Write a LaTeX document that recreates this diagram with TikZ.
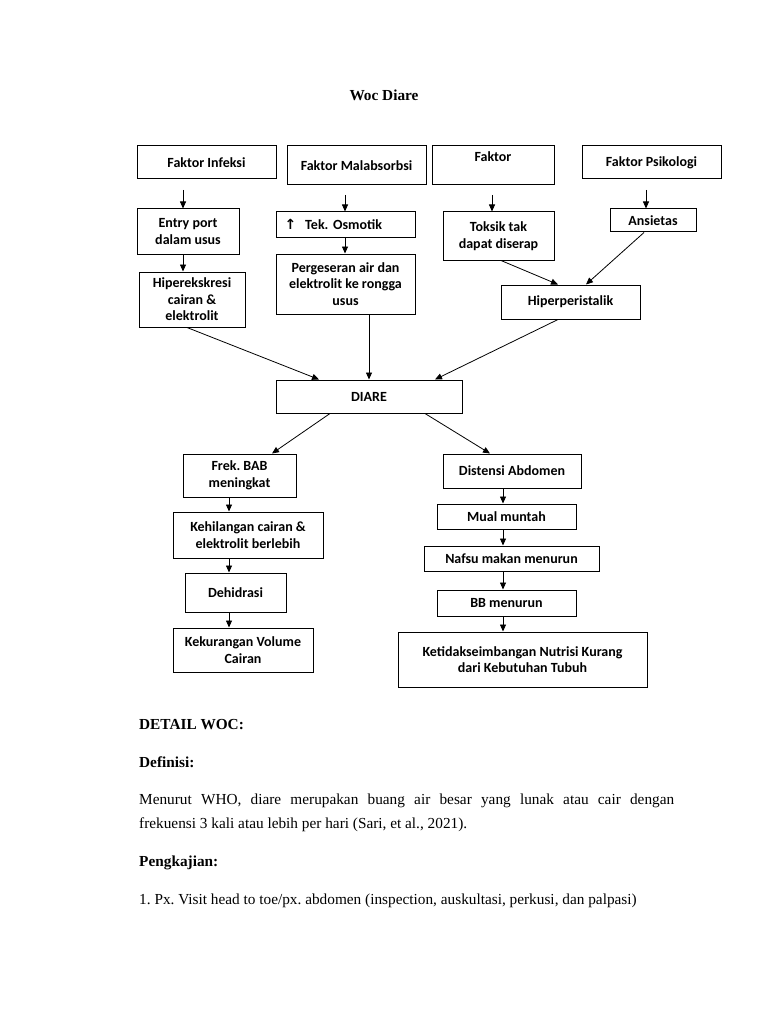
\documentclass[tikz,border=0pt]{standalone}
\usepackage{fontspec}
\setmainfont{Liberation Serif}
\newfontfamily\calibri{Carlito}
\newfontfamily\symfont{DejaVu Sans}
\usetikzlibrary{arrows.meta}
\frenchspacing

\begin{document}
\begin{tikzpicture}[x=1pt, y=-1pt,
  box/.style={draw, line width=1pt, inner sep=2pt, align=center,
    font=\calibri\bfseries\fontsize{14}{16.5}\selectfont},
  arr/.style={-{Triangle[length=7pt,width=6pt]}, line width=0.8pt},
  body/.style={anchor=base west, inner sep=0pt, font=\fontsize{15.3}{24}\selectfont}]

  \useasboundingbox[fill=white] (0,0) rectangle (768,1024);

  % ── Title ────────────────────────────────────────────────────────
  \node[anchor=base, inner sep=0pt, font=\bfseries\fontsize{15.3}{18}\selectfont] (title) at (384,101) {Woc Diare};

  % ── Factor boxes ─────────────────────────────────────────────────
  \node[box, minimum width=139pt, minimum height=33pt] (infeksi) at (206.5,162.5) {Faktor Infeksi};
  \node[box, minimum width=139pt, minimum height=39pt] (malab)   at (356.5,165.5) {Faktor Malabsorbsi};
  \node[box, minimum width=122pt, minimum height=39pt] (faktor)  at (493,165.5)   {Faktor\\[-3pt]\strut};
  \node[box, minimum width=139pt, minimum height=33pt] (psiko)   at (651.5,162.5) {Faktor Psikologi};

  % ── Second row ───────────────────────────────────────────────────
  \node[box, minimum width=102pt, minimum height=45pt] (entry)    at (188,231.5)   {Entry port\\dalam usus};
  \node[box, minimum width=139pt, minimum height=25pt, text width=130pt, align=left, inner xsep=4.5pt]
       (osmo) at (345.5,224.5) {\hspace{4pt}{\symfont\bfseries ↑}\hspace{9pt}Tek. Osmotik};
  \node[box, minimum width=111pt, minimum height=48pt] (toksik)   at (498.5,236)   {Toksik tak\\dapat diserap};
  \node[box, minimum width=86pt,  minimum height=23pt] (ansietas) at (653,220.5)   {Ansietas};

  % ── Third row ────────────────────────────────────────────────────
  \node[box, minimum width=106pt, minimum height=55pt] (hiperek)  at (192,299.5)   {Hiperekskresi\\cairan \&\\elektrolit};
  \node[box, minimum width=139pt, minimum height=60pt] (geser)    at (345.5,284)   {Pergeseran air dan\\elektrolit ke rongga\\usus};
  \node[box, minimum width=139pt, minimum height=34pt] (hiperper) at (570.5,302)   {Hiperperistalik};

  % ── Centre ───────────────────────────────────────────────────────
  \node[box, minimum width=186pt, minimum height=33pt] (diare) at (369,396.5) {DIARE};

  % ── Left branch ──────────────────────────────────────────────────
  \node[box, minimum width=113pt, minimum height=43pt] (frek)   at (239.5,475.5) {Frek. BAB\\meningkat};
  \node[box, minimum width=150pt, minimum height=46pt] (hilang) at (248,535)     {Kehilangan cairan \&\\elektrolit berlebih};
  \node[box, minimum width=101pt, minimum height=39pt] (dehid)  at (235.5,592.5) {Dehidrasi};
  \node[box, minimum width=140pt, minimum height=44pt] (kurang) at (243,650)     {Kekurangan Volume\\Cairan};

  % ── Right branch ─────────────────────────────────────────────────
  \node[box, minimum width=138pt, minimum height=34pt] (distensi) at (512,471)     {Distensi Abdomen};
  \node[box, minimum width=139pt, minimum height=25pt] (mual)     at (506.5,516.5) {Mual muntah};
  \node[box, minimum width=175pt, minimum height=25pt] (nafsu)    at (511.5,558.5) {Nafsu makan menurun};
  \node[box, minimum width=139pt, minimum height=26pt] (bb)       at (506.5,603)   {BB menurun};
  \node[box, minimum width=249pt, minimum height=55pt] (nutrisi)  at (522.5,659.5) {Ketidakseimbangan Nutrisi Kurang\\dari Kebutuhan Tubuh};

  % ── Arrows under the factors ─────────────────────────────────────
  \coordinate (infeksi-out) at (183,190);
  \coordinate (malab-out)   at (345,195);
  \coordinate (faktor-out)  at (492,195);
  \coordinate (psiko-out)   at (646,190);
  \draw[arr] (infeksi-out) -- (infeksi-out |- entry.north);
  \draw[arr] (malab-out)   -- (malab-out |- osmo.north);
  \draw[arr] (faktor-out)  -- (faktor-out |- toksik.north);
  \draw[arr] (psiko-out)   -- (psiko-out |- ansietas.north);

  \draw[arr] (entry.south -| infeksi-out) -- (hiperek.north -| infeksi-out);
  \draw[arr] (osmo.south -| malab-out) -- (geser.north -| malab-out);
  \draw[arr] ([xshift=2.5pt]toksik.south) -- ([xshift=-12.5pt]hiperper.north);
  \draw[arr] ([xshift=-9pt]ansietas.south) -- ([xshift=15.5pt]hiperper.north);

  % ── Into and out of DIARE ────────────────────────────────────────
  \draw[arr] ([xshift=-5pt]hiperek.south) -- ([xshift=-50pt]diare.north);
  \draw[arr] (geser.south -| diare.north) -- (diare.north);
  \draw[arr] ([xshift=-12.5pt]hiperper.south) -- ([xshift=66pt]diare.north);
  \draw[arr] ([xshift=-39pt]diare.south) -- ([xshift=32.5pt]frek.north);
  \draw[arr] ([xshift=56pt]diare.south) -- ([xshift=-22pt]distensi.north);

  % ── Chains ───────────────────────────────────────────────────────
  \coordinate (lx) at (229,0);
  \coordinate (rx) at (503,0);
  \foreach \a/\b in {frek/hilang, hilang/dehid, dehid/kurang}{
    \draw[arr] (\a.south -| lx) -- (\b.north -| lx);
  }
  \foreach \a/\b in {distensi/mual, mual/nafsu, nafsu/bb, bb/nutrisi}{
    \draw[arr] (\a.south -| rx) -- (\b.north -| rx);
  }

  % ── Detail text ──────────────────────────────────────────────────
  \node[body, font=\bfseries\fontsize{15.3}{24}\selectfont] (detail) at (139,729) {DETAIL WOC:};
  \node[body, font=\bfseries\fontsize{15.3}{24}\selectfont] (defn)   at (139,767) {Definisi:};
  \node[body] (def1) at (139,804) {\makebox[535pt][s]{Menurut WHO, diare merupakan buang air besar yang lunak atau cair dengan}};
  \node[body] (def2) at (139,828) {frekuensi 3 kali atau lebih per hari (Sari, et al., 2021).};
  \node[body, font=\bfseries\fontsize{15.3}{24}\selectfont] (kaji)   at (139,866) {Pengkajian:};
  \node[body] (kaji1) at (139,904) {1. Px. Visit head to toe/px. abdomen (inspection, auskultasi, perkusi, dan palpasi)};

\end{tikzpicture}
\end{document}
